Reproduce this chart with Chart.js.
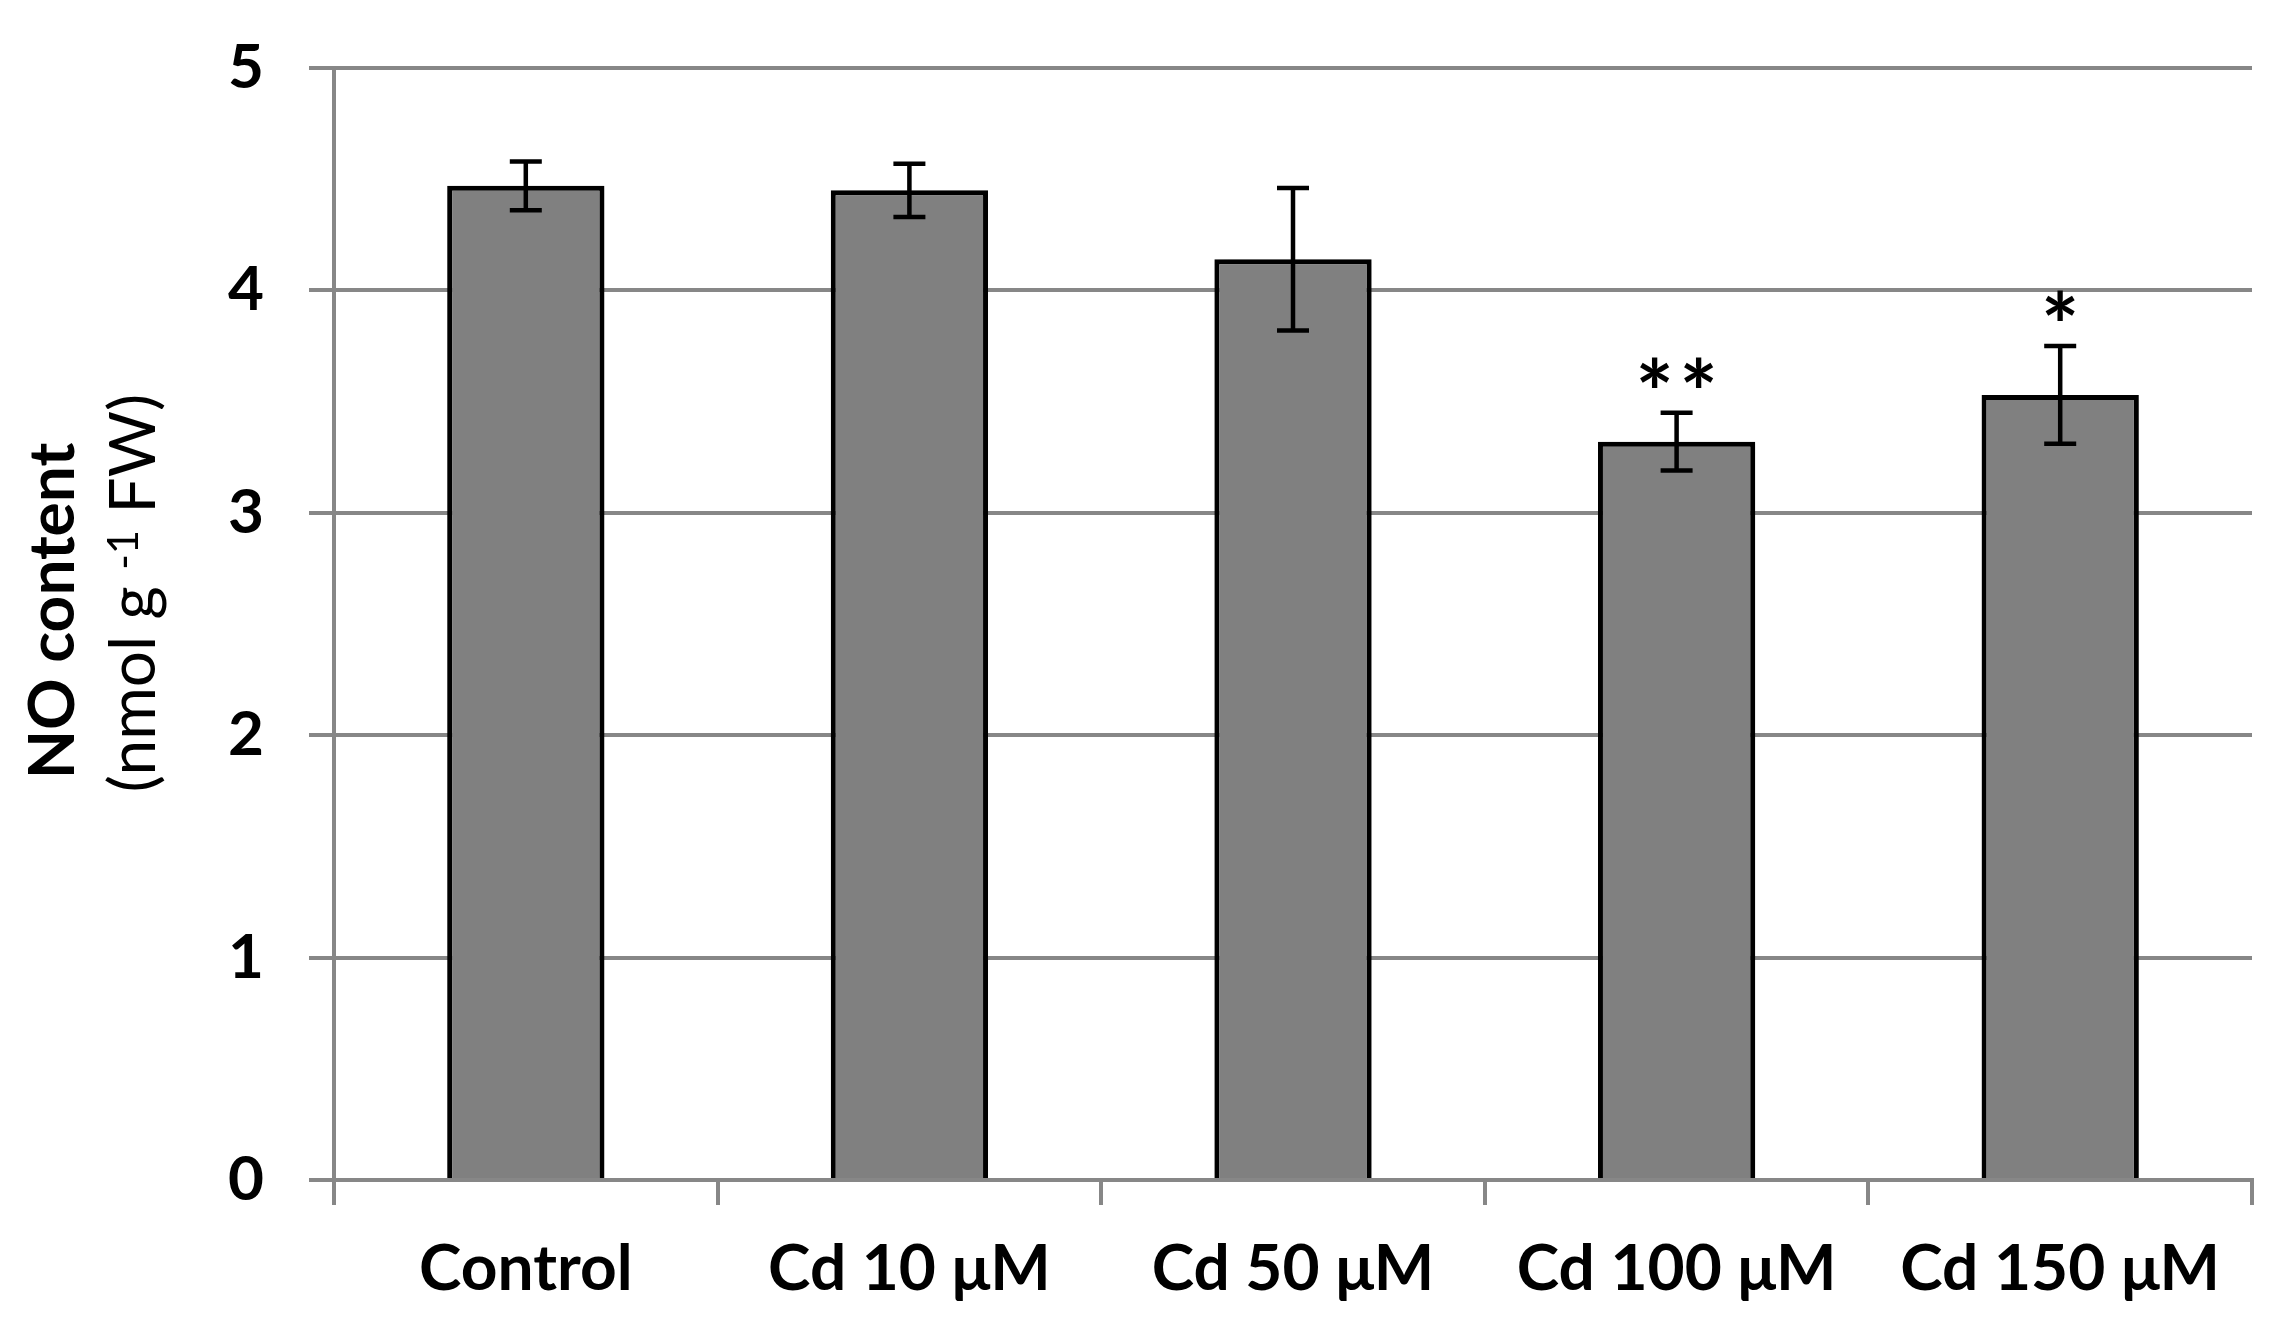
<!DOCTYPE html>
<html>
<head>
<meta charset="utf-8">
<script src="https://cdn.jsdelivr.net/npm/chart.js@4.4.1/dist/chart.umd.min.js"></script>
<style>
  html, body { margin: 0; padding: 0; background: #fff; }
  #chart { display: block; }
</style>
</head>
<body>
<canvas id="chart" width="2293" height="1335"></canvas>
<script>
// values
const categories = ['Control', 'Cd 10 μM', 'Cd 50 μM', 'Cd 100 μM', 'Cd 150 μM'];
const noContent = [4.47, 4.45, 4.14, 3.32, 3.53];
const errors = [0.11, 0.12, 0.32, 0.13, 0.22];
const significance = ['', '', '', '**', '*'];
const yTicks = [0, 1, 2, 3, 4, 5];

const gray = '#878787';
const family = 'Lato, "Open Sans", sans-serif';

// soft shadow to the right of the bars
const shadowPlugin = {
    id: 'barShadow',
    beforeDatasetDraw(chart) {
        const ctx = chart.ctx;
        ctx.save();
        ctx.shadowColor = 'rgba(0,0,0,0.18)';
        ctx.shadowBlur = 10;
        ctx.shadowOffsetX = 6;
    },
    afterDatasetDraw(chart) {
        chart.ctx.restore();
    }
};

const errorBarPlugin = {
    id: 'errorBars',
    afterDatasetsDraw(chart) {
        const ctx = chart.ctx;
        const y = chart.scales.y;
        const meta = chart.getDatasetMeta(0);
        ctx.save();
        ctx.strokeStyle = '#000';
        ctx.lineWidth = 4.5;
        meta.data.forEach((bar, i) => {
            const top = y.getPixelForValue(noContent[i] + errors[i]);
            const bottom = y.getPixelForValue(noContent[i] - errors[i]);
            const x = bar.x;
            ctx.beginPath();
            ctx.moveTo(x, top); ctx.lineTo(x, bottom);
            ctx.moveTo(x - 16, top); ctx.lineTo(x + 16, top);
            ctx.moveTo(x - 16, bottom); ctx.lineTo(x + 16, bottom);
            ctx.stroke();

            // significance stars above the error bar
            const stars = significance[i];
            if (stars) {
                ctx.fillStyle = '#000';
                ctx.font = 'bold 90px ' + family;
                ctx.textAlign = 'center';
                ctx.textBaseline = 'middle';
                const gap = 44;
                const start = x - (stars.length - 1) * gap / 2;
                for (let k = 0; k < stars.length; k++) {
                    ctx.fillText('*', start + k * gap, top - 16);
                }
            }
        });
        ctx.restore();
    }
};

function drawRotatedLine(ctx, cx, cy, parts) {
    ctx.save();
    ctx.translate(cx, cy);
    ctx.rotate(-Math.PI / 2);
    ctx.textBaseline = 'alphabetic';
    ctx.textAlign = 'left';
    ctx.fillStyle = '#000';
    let total = 0;
    parts.forEach(p => { ctx.font = p.font; p.w = ctx.measureText(p.text).width; total += p.w; });
    let x = -total / 2;
    parts.forEach(p => {
        ctx.font = p.font;
        ctx.fillText(p.text, x, -(p.rise || 0));
        x += p.w;
    });
    ctx.restore();
}

const yTitlePlugin = {
    id: 'yTitle',
    afterDraw(chart) {
        const ctx = chart.ctx;
        drawRotatedLine(ctx, 74, 611, [
            { text: 'NO content', font: 'bold 64px ' + family }
        ]);
        drawRotatedLine(ctx, 155, 593, [
            { text: '(nmol g ', font: '64px ' + family },
            { text: '-1', font: '42px ' + family, rise: 17 },
            { text: ' FW)', font: '64px ' + family }
        ]);
    }
};

function build() {
    new Chart(document.getElementById('chart'), {
        type: 'bar',
        data: {
            labels: categories,
            datasets: [{
                data: noContent,
                backgroundColor: '#808080',
                borderColor: '#000',
                borderWidth: 5,
                categoryPercentage: 1,
                barPercentage: 0.41
            }]
        },
        options: {
            responsive: false,
            animation: false,
            devicePixelRatio: 1,
            layout: { padding: { top: 68, right: 41, left: 0, bottom: 0 } },
            plugins: {
                legend: { display: false },
                tooltip: { enabled: false }
            },
            scales: {
                x: {
                    grid: { offset: true, drawOnChartArea: false, color: gray, lineWidth: 4, tickLength: 25 },
                    border: { color: gray, width: 4 },
                    ticks: {
                        color: '#000',
                        font: { family: family, size: 64, weight: 'bold' },
                        padding: 26,
                        maxRotation: 0
                    },
                    afterFit: s => { s.height = 155; }
                },
                y: {
                    min: 0,
                    max: 5,
                    afterBuildTicks: s => { s.ticks = yTicks.map(v => ({ value: v })); },
                    grid: { color: gray, lineWidth: 4, tickLength: 25 },
                    border: { color: gray, width: 4 },
                    ticks: {
                        color: '#000',
                        font: { family: family, size: 62, weight: 'bold' },
                        padding: 45
                    },
                    afterFit: s => {
                        s.width = 334;
                        s.paddingTop = 0;
                        s.paddingBottom = 0;
                    }
                }
            }
        },
        plugins: [shadowPlugin, errorBarPlugin, yTitlePlugin]
    });
}

Promise.all([
    document.fonts.load('bold 60px Lato'),
    document.fonts.load('60px Lato')
]).then(build, build);
</script>
</body>
</html>
